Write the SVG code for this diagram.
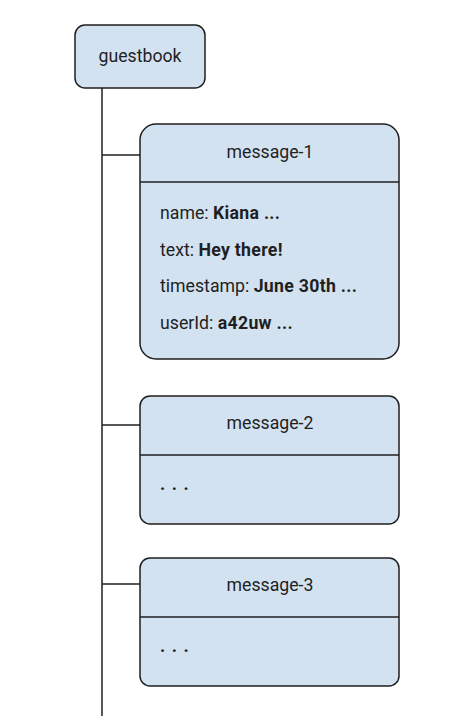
<svg xmlns="http://www.w3.org/2000/svg" width="461" height="722" viewBox="0 0 461 722">
<style>
.box{fill:#d3e2f1;stroke:#1f1f1f;stroke-width:1.5}
.div{stroke:#1f1f1f;stroke-width:1.5}
.ln{stroke:#1f1f1f;stroke-width:1.5;fill:none}
text{font-family:Roboto,"Liberation Sans",sans-serif;font-size:17.7px;fill:#1f1f1f}
.c{text-anchor:middle}
.b{font-weight:bold;letter-spacing:0.3px}
.d{font-weight:bold;font-size:18px;letter-spacing:1px}
</style>
<rect width="461" height="722" fill="#ffffff"/>
<g id="connectors">
<line class="ln" x1="102" y1="88" x2="102" y2="716"/>
<line class="ln" x1="102" y1="155" x2="140" y2="155"/>
<line class="ln" x1="102" y1="425" x2="140" y2="425"/>
<line class="ln" x1="102" y1="584" x2="140" y2="584"/>
</g>
<g id="guestbook">
<rect class="box" x="75" y="25" width="130" height="63" rx="10"/>
<text class="c" x="140" y="62">guestbook</text>
</g>
<g id="message-1">
<rect class="box" x="140" y="124" width="259" height="235" rx="16"/>
<line class="div" x1="140" y1="182" x2="399" y2="182"/>
<text class="c" x="270" y="158">message-1</text>
<text x="160" y="219">name: <tspan class="b">Kiana ...</tspan></text>
<text x="160" y="256">text: <tspan class="b">Hey there!</tspan></text>
<text x="160" y="292">timestamp: <tspan class="b">June 30th ...</tspan></text>
<text x="160" y="329">userId: <tspan class="b">a42uw ...</tspan></text>
</g>
<g id="message-2">
<rect class="box" x="140" y="396" width="259" height="128" rx="10"/>
<line class="div" x1="140" y1="455" x2="399" y2="455"/>
<text class="c" x="270" y="429">message-2</text>
<text class="d" x="160" y="490">. . .</text>
</g>
<g id="message-3">
<rect class="box" x="140" y="558" width="259" height="128" rx="10"/>
<line class="div" x1="140" y1="617" x2="399" y2="617"/>
<text class="c" x="270" y="591">message-3</text>
<text class="d" x="160" y="652">. . .</text>
</g>
</svg>
